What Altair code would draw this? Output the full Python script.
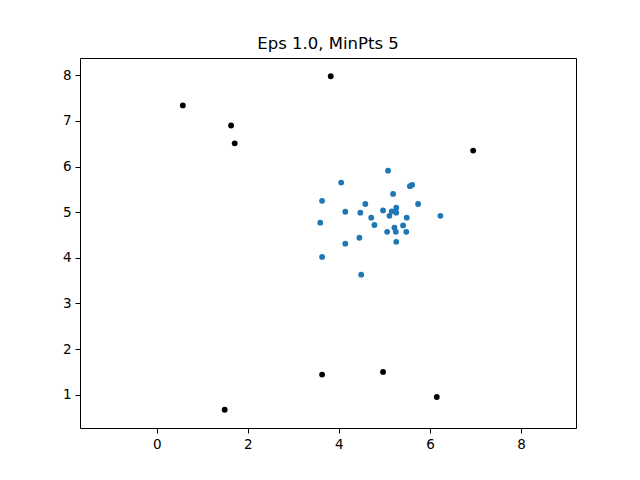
import altair as alt
import pandas as pd

# cluster points (blue)
cx = [5.08, 4.05, 5.56, 5.61, 3.63, 5.19, 4.58, 5.74, 4.14, 4.47, 4.97, 5.26, 5.16, 5.26, 5.11,
      4.71, 5.49, 6.23, 3.59, 4.78, 5.41, 5.22, 5.06, 5.25, 5.48, 4.45, 4.14, 5.26, 3.63, 4.49]
cy = [5.91, 5.65, 5.57, 5.60, 5.25, 5.40, 5.18, 5.18, 5.01, 4.99, 5.04, 5.10, 5.02, 4.99, 4.92,
      4.88, 4.88, 4.92, 4.77, 4.72, 4.71, 4.66, 4.57, 4.57, 4.57, 4.44, 4.31, 4.35, 4.02, 3.63]
# noise points (black)
nx = [0.57, 1.63, 1.71, 3.82, 6.95, 3.63, 4.97, 1.49, 6.15]
ny = [7.34, 6.90, 6.51, 7.98, 6.35, 1.44, 1.50, 0.67, 0.95]

xticks = [0, 2, 4, 6, 8]
yticks = [1, 2, 3, 4, 5, 6, 7, 8]

df = pd.DataFrame({
    "x": cx + nx,
    "y": cy + ny,
    "group": ["cluster"] * len(cx) + ["noise"] * len(nx),
})

xs = alt.Scale(domain=[-1.69, 9.21], nice=False, zero=False)
ys = alt.Scale(domain=[0.27, 8.38], nice=False, zero=False)

axis_common = dict(grid=False, domain=False, tickColor="black", tickSize=5,
                   labelColor="black", labelFontSize=13.5, labelFont="DejaVu Sans",
                   title=None, labelPadding=4)

chart = alt.Chart(df).mark_circle(size=34, opacity=1).encode(
    x=alt.X("x:Q", scale=xs, axis=alt.Axis(values=xticks, **axis_common)),
    y=alt.Y("y:Q", scale=ys, axis=alt.Axis(values=yticks, **axis_common)),
    color=alt.Color("group:N", scale=alt.Scale(domain=["cluster", "noise"],
                                               range=["#1f77b4", "#000000"]), legend=None),
).properties(
    width=496, height=370,
    title=alt.TitleParams("Eps 1.0, MinPts 5", fontSize=16.5, font="DejaVu Sans",
                          fontWeight="normal", color="black", anchor="middle", offset=6),
    autosize=alt.AutoSizeParams(type="none"),
    padding={"left": 72, "top": 50, "right": 56, "bottom": 45},
).configure_view(stroke="black", strokeWidth=1)

chart.save("out.html", embed_options={"renderer": "svg", "actions": False})
